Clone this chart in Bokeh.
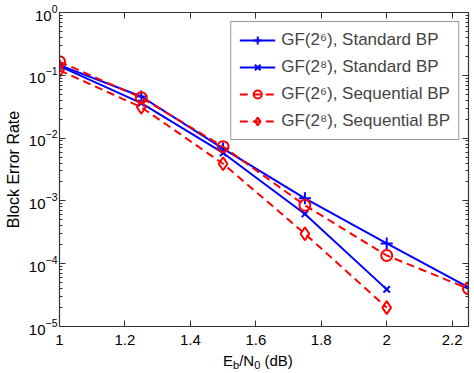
from bokeh.plotting import figure
from bokeh.layouts import column
from bokeh.models import (LinearAxis, LogAxis, FixedTicker, LogTicker, Div,
                          Legend, LegendItem)
from bokeh.embed import file_html
from bokeh.resources import INLINE

# ---- data ----
ebn0_gf6 = [1.0, 1.25, 1.5, 1.75, 2.0, 2.25]
ebn0_gf8 = [1.0, 1.25, 1.5, 1.75, 2.0]
bler_gf6_std = [0.145, 0.046, 0.0068, 1.1e-3, 2.1e-4, 4.2e-5]
bler_gf8_std = [0.140, 0.036, 0.0058, 6.2e-4, 3.9e-5]
bler_gf6_seq = [0.165, 0.044, 0.0073, 8.5e-4, 1.35e-4, 4.0e-5]
bler_gf8_seq = [0.120, 0.031, 0.0039, 3.0e-4, 2.0e-5]

x_ticks = [1, 1.2, 1.4, 1.6, 1.8, 2, 2.2]
labels = ["GF(2\u2076), Standard BP", "GF(2\u2078), Standard BP",
          "GF(2\u2076), Sequential BP", "GF(2\u2078), Sequential BP"]

FONT = "Liberation Sans"
FS = "15px"
BLUE = "#0000ff"
RED = "#ff0000"
AX = "#333333"

p = figure(width=474, height=352, y_axis_type="log",
           x_range=(1, 2.25), y_range=(1e-5, 1),
           output_backend="svg", toolbar_location=None,
           min_border_left=59, min_border_right=6, min_border_top=12,
           min_border_bottom=26)
p.xgrid.visible = False
p.ygrid.visible = False
p.outline_line_color = AX
p.outline_line_width = 1.2
p.background_fill_color = "white"
p.border_fill_color = "white"

# bottom axis
xa = p.xaxis[0]
xa.ticker = FixedTicker(ticks=x_ticks)
xa.major_label_overrides = {1: "1", 2: "2"}
xa.major_tick_in = 6
xa.major_tick_out = 0
xa.minor_tick_line_color = None
xa.axis_line_color = AX
xa.major_tick_line_color = AX
xa.major_label_text_font = FONT
xa.major_label_text_font_size = FS
xa.major_label_text_color = "black"
xa.major_label_standoff = 8

# left axis
ya = p.yaxis[0]
ya.ticker = LogTicker(num_minor_ticks=10)
ya.major_tick_in = 6
ya.major_tick_out = 0
ya.minor_tick_in = 3
ya.minor_tick_out = 0
ya.axis_line_color = AX
ya.major_tick_line_color = AX
ya.minor_tick_line_color = AX
ya.major_label_text_font = FONT
ya.major_label_text_font_size = FS
ya.major_label_text_color = "black"
ya.major_label_standoff = 2
ya.axis_label = "Block Error Rate"
ya.axis_label_text_font = FONT
ya.axis_label_text_font_size = "16px"
ya.axis_label_text_font_style = "normal"
ya.axis_label_text_color = "black"
ya.axis_label_standoff = 4

# top and right axes (ticks only, labels invisible)
top = LinearAxis(ticker=FixedTicker(ticks=x_ticks), major_tick_in=6,
                 major_tick_out=0, minor_tick_line_color=None,
                 major_label_text_font_size="1px", major_label_text_color=None,
                 major_label_standoff=0,
                 axis_line_color=AX, major_tick_line_color=AX)
p.add_layout(top, "above")
right = LogAxis(ticker=LogTicker(num_minor_ticks=10), major_tick_in=6,
                major_tick_out=0, minor_tick_in=3, minor_tick_out=0,
                major_label_text_font_size="1px", major_label_text_color=None,
                major_label_standoff=0,
                axis_line_color=AX, major_tick_line_color=AX,
                minor_tick_line_color=AX)
p.add_layout(right, "right")

# series
l1 = p.line(ebn0_gf6, bler_gf6_std, line_color=BLUE, line_width=2)
m1 = p.scatter(ebn0_gf6, bler_gf6_std, marker="cross", size=12,
               line_color=BLUE, line_width=2)
l2 = p.line(ebn0_gf8, bler_gf8_std, line_color=BLUE, line_width=2)
m2 = p.scatter(ebn0_gf8, bler_gf8_std, marker="x", size=9,
               line_color=BLUE, line_width=2)
l3 = p.line(ebn0_gf6, bler_gf6_seq, line_color=RED, line_width=2,
            line_dash="8 5")
m3 = p.scatter(ebn0_gf6, bler_gf6_seq, marker="circle", size=11,
               line_color=RED, fill_color=None, line_width=2)
l4 = p.line(ebn0_gf8, bler_gf8_seq, line_color=RED, line_width=2,
            line_dash="8 5")
m4 = p.scatter(ebn0_gf8, bler_gf8_seq, marker="diamond", size=13,
               line_color=RED, fill_color=None, line_width=2)

legend = Legend(items=[
    LegendItem(label=labels[0], renderers=[l1, m1]),
    LegendItem(label=labels[1], renderers=[l2, m2]),
    LegendItem(label=labels[2], renderers=[l3, m3]),
    LegendItem(label=labels[3], renderers=[l4, m4]),
], location="top_right")
legend.label_text_font = FONT
legend.label_text_font_size = "17px"
legend.label_height = 20
legend.glyph_height = 20
legend.glyph_width = 36
legend.spacing = 7
legend.padding = 8
legend.margin = 9
legend.label_standoff = 6
legend.border_line_color = AX
legend.border_line_width = 1.2
legend.background_fill_alpha = 1.0
p.add_layout(legend, "center")

# x-axis label with real sub-scripts, placed under the frame
SUB = '<span style="font-size:11px; position:relative; top:3px;">{}</span>'
xlabel = Div(
    text="E" + SUB.format("b") + "/N" + SUB.format("0") + " (dB)",
    width=474, height=21, margin=0,
    styles={"font-family": FONT, "font-size": FS, "line-height": "15px",
            "padding-left": "223px", "padding-top": "1px", "color": "black",
            "box-sizing": "border-box", "white-space": "nowrap"},
)

layout = column(p, xlabel, spacing=0)
open("out.html", "w").write(file_html(layout, INLINE))
